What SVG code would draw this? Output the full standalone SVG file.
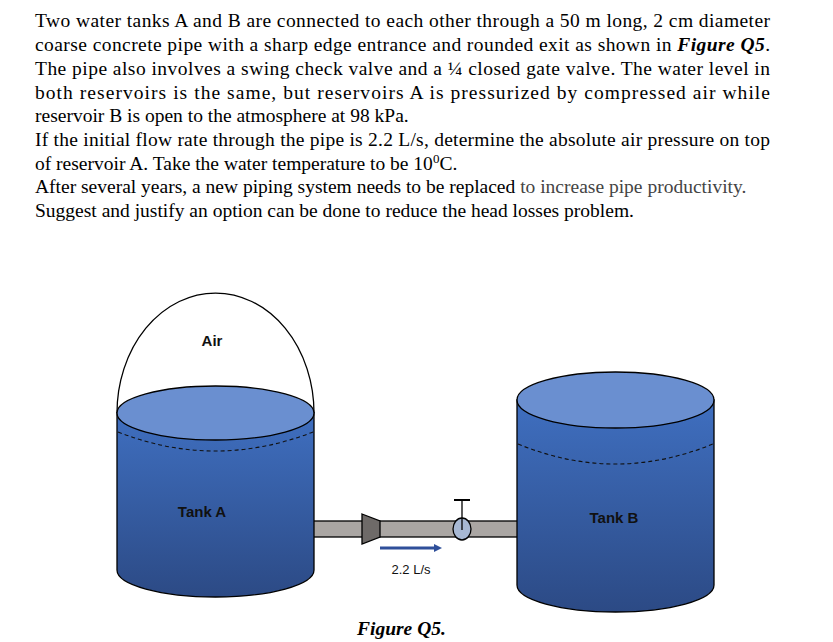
<svg xmlns="http://www.w3.org/2000/svg" width="833" height="642" viewBox="0 0 833 642">
<style>
.t{font-family:"Liberation Serif",serif;font-size:19.5px;fill:#000}
.g{fill:#444}
.l{font-family:"Liberation Sans",Arial,sans-serif;font-weight:bold;font-size:15px;fill:#111}
.s{stroke:#000;stroke-width:1.3}
.d{fill:none;stroke:#111;stroke-width:1.1;stroke-dasharray:4 3}
</style>
<defs>
<linearGradient id="bg" x1="0" y1="0" x2="0" y2="1"><stop offset="0" stop-color="#3f6fc0"/><stop offset="1" stop-color="#2c4a85"/></linearGradient>
</defs>
<rect width="833" height="642" fill="#fff"/>
<g id="text">
<text class="t" x="35" y="27" textLength="735" lengthAdjust="spacing">Two water tanks A and B are connected to each other through a 50 m long, 2 cm diameter</text>
<text class="t" x="35" y="51" textLength="735" lengthAdjust="spacing">coarse concrete pipe with a sharp edge entrance and rounded exit as shown in <tspan font-weight="bold" font-style="italic">Figure Q5</tspan>.</text>
<text class="t" x="35" y="75" textLength="735" lengthAdjust="spacing">The pipe also involves a swing check valve and a ¼ closed gate valve. The water level in</text>
<text class="t" x="35" y="99" textLength="735" lengthAdjust="spacing">both reservoirs is the same, but reservoirs A is pressurized by compressed air while</text>
<text class="t" x="35" y="122">reservoir B is open to the atmosphere at 98 kPa.</text>
<text class="t" x="35" y="146" textLength="735" lengthAdjust="spacing">If the initial flow rate through the pipe is 2.2 L/s, determine the absolute air pressure on top</text>
<text class="t" x="35" y="170">of reservoir A. Take the water temperature to be 10<tspan dy="-7" font-size="13">0</tspan><tspan dy="7">C.</tspan></text>
<text class="t" x="35" y="193">After several years, a new piping system needs to be replaced <tspan class="g">to increase pipe productivity.</tspan></text>
<text class="t" x="35" y="217">Suggest and justify an option can be done to reduce the head losses problem.</text>
<text class="t" x="357" y="635" font-weight="bold" font-style="italic">Figure Q5.</text>
</g>
<g id="pipe">
<rect x="312" y="521" width="208" height="16" fill="#aaa6a3" class="s"/>
<polygon points="362,514 380,521 380,537 362,544" fill="#6e6a68" class="s"/>
<line x1="462" y1="500" x2="462" y2="525" class="s"/>
<line x1="454" y1="500" x2="470" y2="500" stroke="#000" stroke-width="2"/>
<ellipse cx="462" cy="529" rx="9" ry="11" fill="#a7b8d3" class="s"/>
<line x1="462" y1="518" x2="462" y2="530" class="s"/>
</g>
<g id="tankA">
<path d="M117,413 A98.5,120 0 0 1 314,413" fill="#fff" class="s"/>
<path d="M117,413 V570 A98.5,27 0 0 0 314,570 V413 Z" fill="url(#bg)" class="s"/>
<ellipse cx="215.5" cy="413" rx="98.5" ry="27" fill="#6a8fd0" class="s"/>
<path class="d" d="M118,432 Q215,470 313,432"/>
<text class="l" x="212" y="346" text-anchor="middle">Air</text>
<text class="l" x="202" y="517" text-anchor="middle">Tank A</text>
</g>
<g id="tankB">
<path d="M517,400 V585 A98.5,27 0 0 0 714,585 V400 Z" fill="url(#bg)" class="s"/>
<ellipse cx="615.5" cy="400" rx="98.5" ry="28" fill="#6a8fd0" class="s"/>
<path class="d" d="M518,444 Q615,484 713,444"/>
<text class="l" x="614" y="523" text-anchor="middle">Tank B</text>
</g>
<g id="flow">
<line x1="380" y1="548" x2="434" y2="548" stroke="#2f4f9a" stroke-width="3"/>
<polygon points="434,544 442,548 434,552" fill="#2f4f9a"/>
<text x="411" y="574" text-anchor="middle" font-family="Liberation Sans,Arial,sans-serif" font-size="13" fill="#111">2.2 L/s</text>
</g>
</svg>
